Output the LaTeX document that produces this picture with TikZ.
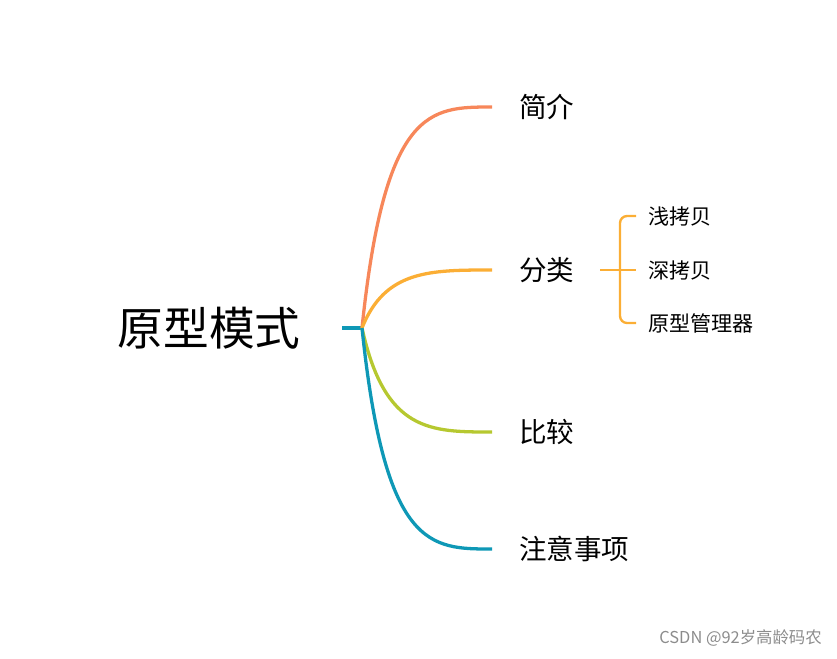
\documentclass[tikz,border=0pt]{standalone}
\usepackage{fontspec}
\setmainfont{Noto Sans CJK SC}
\tikzset{
  branch/.style={line width=2.8pt},
  topic/.style={anchor=west,inner sep=0pt,font=\fontsize{23.5}{27}\selectfont},
  subtopic/.style={anchor=west,inner sep=0pt,font=\fontsize{18}{21}\selectfont}
}
\definecolor{corange}{HTML}{F7875A}
\definecolor{cyellow}{HTML}{FBAE35}
\definecolor{cgreen}{HTML}{B6C830}
\definecolor{cteal}{HTML}{0E98B6}
\begin{document}
\begin{tikzpicture}[x=0.03cm,y=-0.03cm]
	\useasboundingbox (0,0) rectangle (837,658);
	% root
	\node[inner sep=0pt,font=\fontsize{39}{44}\selectfont] (root) at (209,328) {原型模式};
	\coordinate (r0) at (342,328);
	\coordinate (r1) at (362,328);
	\draw[branch,cteal] (r0) -- (r1);
	% topics
	\coordinate (e1) at (492,107);
	\coordinate (e2) at (492,270);
	\coordinate (e3) at (492,432);
	\coordinate (e4) at (492,549);
	\node[topic] (intro) at (519,107) {简介};
	\node[topic] (kind) at (519,270) {分类};
	\node[topic] (cmp) at (519,432) {比较};
	\node[topic] (note) at (519,549) {注意事项};
	\draw[branch,corange] (r1) .. controls (385,107) and (430,107) .. (e1);
	\draw[branch,cyellow] (r1) .. controls (385,270) and (430,270) .. (e2);
	\draw[branch,cgreen] (r1) .. controls (385,432) and (430,432) .. (e3);
	\draw[branch,cteal] (r1) .. controls (385,549) and (430,549) .. (e4);
	% sub topics
	\node[subtopic] (shallow) at (648,216) {浅拷贝};
	\node[subtopic] (deep) at (648,270) {深拷贝};
	\node[subtopic] (mgr) at (648,323) {原型管理器};
	\coordinate (b0) at (600,270);
	\coordinate (b1) at (620,270);
	\draw[cyellow,line width=2pt] (b0) -- (b1);
	\draw[cyellow,line width=2pt,rounded corners=6pt] (shallow.west) ++(-12,0) -- (620,216) -- (620,323) -- ([xshift=-12*0.03cm]mgr.west);
	\draw[cyellow,line width=2pt] (b1) -- ([xshift=-12*0.03cm]deep.west);
	% watermark
	\node[anchor=east,inner sep=0pt,text=black!45,font=\fontsize{14}{16}\selectfont] (mark) at (822,638) {CSDN @92岁高龄码农};
\end{tikzpicture}
\end{document}
